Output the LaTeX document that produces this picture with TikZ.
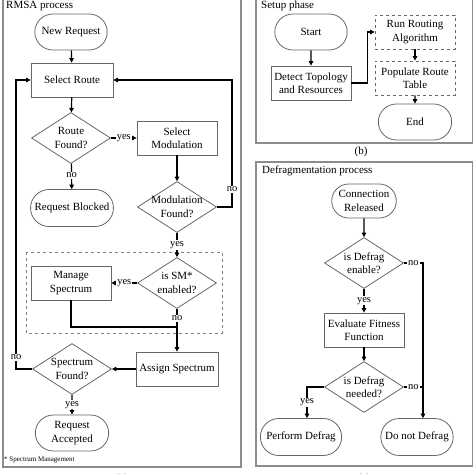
\documentclass[tikz,border=0pt]{standalone}
\usepackage{fontspec}
\setmainfont{Liberation Serif}
\usetikzlibrary{shapes.geometric,shapes.misc,arrows.meta}

\tikzset{
  box/.style={draw=black!60, line width=.8pt, align=center, font=\fontsize{11}{13.5}\selectfont},
  term/.style={box, rounded rectangle, minimum width=79pt, minimum height=36pt},
  proc/.style={box, rectangle, minimum width=80pt, minimum height=34pt},
  dproc/.style={proc, dashed},
  dec/.style={box, diamond, aspect=1.5, inner sep=-4pt, minimum width=79pt, minimum height=51pt},
  line/.style={line width=1.2pt},
  flow/.style={line, -{Triangle[length=4.5pt,width=4.5pt]}},
  lbl/.style={fill=white, inner sep=1pt, font=\fontsize{10.5}{12}\selectfont},
  ttl/.style={anchor=base west, inner sep=0pt, font=\fontsize{11}{13}\selectfont},
  panel/.style={draw=black!45, line width=1.6pt},
}

\begin{document}
\begin{tikzpicture}[x=1pt, y=-1pt]
\useasboundingbox (0,0) rectangle (474,474);
% panels
\draw[panel] (3,-5) rectangle (241,467);
\draw[panel] (256,-5) rectangle (472.5,143);
\draw[panel] (256,162) rectangle (472.5,466);
\node[ttl] (ttla) at (6,8) {RMSA process};
\node[ttl] (ttlb) at (261,8.5) {Setup phase};
\node[ttl] (ttlc) at (262,173) {Defragmentation process};
\node[font=\fontsize{11}{13}\selectfont, anchor=north] (capa) at (122,470) {(a)};
\node[font=\fontsize{11}{13}\selectfont] (capb) at (361,152) {(b)};
\node[font=\fontsize{11}{13}\selectfont, anchor=north] (capc) at (364,470) {(c)};

% (a) RMSA process
\draw[dashed, draw=black!50, line width=.8pt] (26,252) rectangle (222,333);
\node[term] (newreq) at (71,32) {New Request};
\node[proc, minimum width=82pt] (selroute) at (72,80) {Select Route};
\node[dec] (routefound) at (71,138) {Route\\Found?};
\node[proc] (selmod) at (177,138) {Select\\Modulation};
\node[term, minimum width=80pt, minimum height=37pt] (reqblock) at (72,208) {Request Blocked};
\node[dec] (modfound) at (177,207) {Modulation\\Found?};
\node[dec] (issm) at (177,283) {is SM*\\enabled?};
\node[proc] (manspec) at (71,283) {Manage\\Spectrum};
\node[proc] (assign) at (177,369) {Assign Spectrum};
\node[dec] (specfound) at (72,369) {Spectrum\\Found?};
\node[term, minimum width=80pt] (reqacc) at (72,433) {Request\\Accepted};
\node[anchor=west, inner sep=0pt, font=\fontsize{7}{8}\selectfont] (legend) at (4,460) {* Spectrum Management};
\coordinate (modback) at (232,80);
\coordinate (specback) at (16,80);
\coordinate (smjoin) at (177,327);

\draw[flow] (newreq) -- (selroute);
\draw[flow] (selroute) -- (routefound);
\draw[flow] (routefound) -- node[lbl]{yes} (selmod);
\draw[flow] (routefound) -- node[lbl, pos=.45]{no} (reqblock);
\draw[flow] (selmod) -- (modfound);
\draw[flow] (modfound.east) -| node[lbl, pos=.57]{no} (modback) -- (selroute.east);
\draw[flow] (modfound) -- node[lbl]{yes} (issm);
\draw[flow] (issm) -- node[lbl]{yes} (manspec);
\draw[line] (manspec) |- (smjoin);
\draw[flow] (issm) -- node[lbl, pos=.22]{no} (assign);
\draw[flow] (assign) -- (specfound);
\draw[flow] (specfound.west) -| node[lbl, pos=.52]{no} (specback) -- (selroute.west);
\draw[flow] (specfound) -- node[lbl]{yes} (reqacc);

% (b) setup phase
\node[term] (start) at (311,32) {Start};
\node[proc, minimum width=78pt] (detect) at (311,83) {Detect Topology\\and Resources};
\node[dproc] (runroute) at (415,32) {Run Routing\\Algorithm};
\node[dproc] (poproute) at (415,78) {Populate Route\\Table};
\node[term, minimum width=80pt] (end) at (415,122) {End};
\draw[flow] (start) -- (detect);
\draw[flow] (detect.east) -- ++(16,0) |- (runroute.west);
\draw[flow] (runroute) -- (poproute);
\draw[flow] (poproute) -- (end);

% (c) defragmentation process
\node[term, minimum width=64pt, minimum height=34pt] (connrel) at (364,201) {Connection\\Released};
\node[dec] (isenable) at (364,263) {is Defrag\\enable?};
\node[proc] (evalfit) at (364,330) {Evaluate Fitness\\Function};
\node[dec] (isneeded) at (364,387) {is Defrag\\needed?};
\node[term, minimum width=88pt, minimum height=37pt] (perfdefrag) at (301,437) {Perform Defrag};
\node[term, minimum width=79pt, minimum height=37pt] (notdefrag) at (417,437) {Do not Defrag};
\coordinate (nobend) at (423,263);
\coordinate (yesbend) at (307,387);
\draw[flow] (connrel) -- (isenable);
\draw[flow] (isenable) -- node[lbl]{yes} (evalfit);
\draw[flow] (evalfit) -- (isneeded);
\draw[flow] (isenable.east) -- node[lbl]{no} (nobend) -- (nobend |- notdefrag.north);
\draw[line] (isneeded.east) -- node[lbl]{no} (isneeded.east -| nobend);
\draw[flow] (isneeded.west) -- (yesbend) -- node[lbl]{yes} (yesbend |- perfdefrag.north);
\end{tikzpicture}
\end{document}
